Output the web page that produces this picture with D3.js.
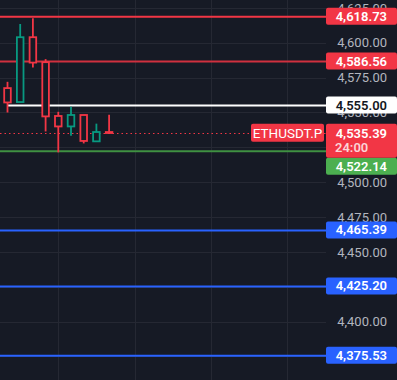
<!DOCTYPE html>
<html><head><meta charset="utf-8">
<script src="https://cdn.jsdelivr.net/npm/d3@7"></script>
<style>html,body{margin:0;padding:0;background:#161a25;overflow:hidden}</style>
</head><body><svg id="c" width="397" height="380"></svg>
<script>
const opens  = [4567.5, 4557.5, 4604.0, 4586.1, 4547.5, 4540.0, 4548.2, 4529.3, 4536.0];
const highs  = [4572.0, 4613.5, 4617.6, 4588.3, 4550.5, 4554.1, 4548.2, 4542.0, 4548.4];
const lows   = [4550.0, 4557.5, 4582.2, 4536.4, 4521.4, 4533.4, 4527.8, 4529.3, 4534.6];
const closes = [4557.2, 4604.0, 4585.8, 4547.2, 4540.0, 4548.2, 4529.6, 4536.0, 4535.39];
const levels = [4618.73, 4586.56, 4555.00, 4522.14, 4465.39, 4425.20, 4375.53];
const levelKinds = ["red", "red2", "white", "green", "blue", "blue", "blue"];
const tickValues = [4625, 4600, 4575, 4550, 4525, 4500, 4475, 4450, 4425, 4400, 4375];
const timeGridIdx = [4, 10, 16, 22];
const lastPrice = 4535.39;
const symbol = "ETHUSDT.P";
const countdown = "24:00";

const W = 397, H = 380, plotR = 326;
const colors = {red:"#f23645", red2:"#d0303f", white:"#ffffff", green:"#3f9142", blue:"#2962ff"};
const boxColors = {red:"#f23645", red2:"#f23645", white:"#ffffff", green:"#4caf50", blue:"#2962ff"};
const textColors = {red:"#fff", red2:"#fff", white:"#131722", green:"#fff", blue:"#fff"};
const up = "#089981", down = "#f23645";
const font = "Roboto, sans-serif";

const svg = d3.select("#c");
const y = d3.scaleLinear().domain([4358.1, 4630.7]).range([H, 0]);
const x = d3.scaleLinear().domain([0, 8]).range([7.5, 7.5 + 8*12.7]);

// label boxes layout (price scale)
const ly = y(lastPrice);
const lastTop = ly - 9, lastBot = ly + 25;
const boxes = levels.map((d, i) => {
  let top = y(d) - 9;
  if (top < lastBot && top + 18 > lastTop) top = lastBot;
  return {v: d, k: levelKinds[i], top, bot: top + 17};
});
const allBoxes = boxes.concat([{top: lastTop, bot: lastBot}]);

// grid
const g = svg.append("g");
g.selectAll(".hg").data(tickValues).join("line")
  .attr("x1", 0).attr("x2", plotR).attr("y1", d => Math.round(y(d)) + 0.5).attr("y2", d => Math.round(y(d)) + 0.5)
  .attr("stroke", "#252833").attr("stroke-width", 1);
g.selectAll(".vg").data(timeGridIdx).join("line")
  .attr("x1", d => Math.round(x(d)) + 0.5).attr("x2", d => Math.round(x(d)) + 0.5).attr("y1", 0).attr("y2", H)
  .attr("stroke", "#252833").attr("stroke-width", 1);

// axis tick labels (labels fully covered by a price box are not drawn)
const shownTicks = tickValues.filter(t => !allBoxes.some(b => y(t) > b.top + 3 && y(t) < b.bot - 3));
const axis = d3.axisRight(y).tickValues(shownTicks).tickSize(0).tickPadding(0)
  .tickFormat(d => d3.format(",.2f")(d));
const ag = svg.append("g").attr("transform", `translate(${plotR},0)`).call(axis);
ag.select(".domain").remove();
ag.selectAll("text").attr("x", 61).attr("text-anchor", "end").attr("fill", "#b2b5be")
  .style("font-family", font).style("font-size", "13px");

// level lines
svg.selectAll(".lvl").data(levels).join("line")
  .attr("x1", (d, i) => levelKinds[i] === "white" ? 7 : 0).attr("x2", plotR)
  .attr("y1", d => y(d)).attr("y2", d => y(d))
  .attr("stroke", (d, i) => colors[levelKinds[i]]).attr("stroke-width", 2);

// last price dotted line
svg.append("line").attr("x1", 0).attr("x2", plotR).attr("y1", Math.round(ly) + 0.5).attr("y2", Math.round(ly) + 0.5)
  .attr("stroke", down).attr("stroke-width", 1).attr("stroke-dasharray", "1.5,3");

// candles
const cg = svg.append("g");
d3.range(opens.length).forEach(i => {
  const col = closes[i] >= opens[i] ? up : down;
  const top = Math.max(opens[i], closes[i]), bot = Math.min(opens[i], closes[i]);
  const cx = x(i);
  cg.append("line").attr("x1", cx).attr("x2", cx).attr("y1", y(highs[i])).attr("y2", y(top))
    .attr("stroke", col).attr("stroke-width", 1.8);
  cg.append("line").attr("x1", cx).attr("x2", cx).attr("y1", y(bot)).attr("y2", y(lows[i]))
    .attr("stroke", col).attr("stroke-width", 1.8);
  cg.append("rect").attr("x", cx - 3.3).attr("width", 6.6)
    .attr("y", y(top)).attr("height", Math.max(1, y(bot) - y(top)))
    .attr("fill", "#161a25").attr("stroke", col).attr("stroke-width", 1.8);
});

// level labels
boxes.forEach(b => {
  svg.append("rect").attr("x", plotR).attr("y", b.top).attr("width", W - plotR).attr("height", 17)
    .attr("rx", 2).attr("fill", boxColors[b.k]);
  svg.append("text").attr("x", 387).attr("y", b.top + 13).attr("text-anchor", "end")
    .attr("fill", textColors[b.k]).style("font-family", font).style("font-size", "13px").style("font-weight", 600)
    .text(d3.format(",.2f")(b.v));
});

// last price label
svg.append("rect").attr("x", plotR).attr("y", lastTop).attr("width", W - plotR).attr("height", lastBot - lastTop)
  .attr("rx", 2).attr("fill", down);
svg.append("text").attr("x", 387).attr("y", ly + 5).attr("text-anchor", "end").attr("fill", "#fff")
  .style("font-family", font).style("font-size", "13px").style("font-weight", 600).text(d3.format(",.2f")(lastPrice));
svg.append("text").attr("x", 335).attr("y", ly + 19).attr("text-anchor", "start").attr("fill", "#fbd3d7")
  .style("font-family", font).style("font-size", "13px").style("font-weight", 600).text(countdown);
// symbol label
svg.append("rect").attr("x", 251).attr("y", ly - 9).attr("width", 73).attr("height", 18).attr("rx", 2).attr("fill", down);
svg.append("text").attr("x", 287.5).attr("y", ly + 5).attr("text-anchor", "middle").attr("fill", "#fff")
  .style("font-family", font).style("font-size", "13.5px").text(symbol);
</script></body></html>
